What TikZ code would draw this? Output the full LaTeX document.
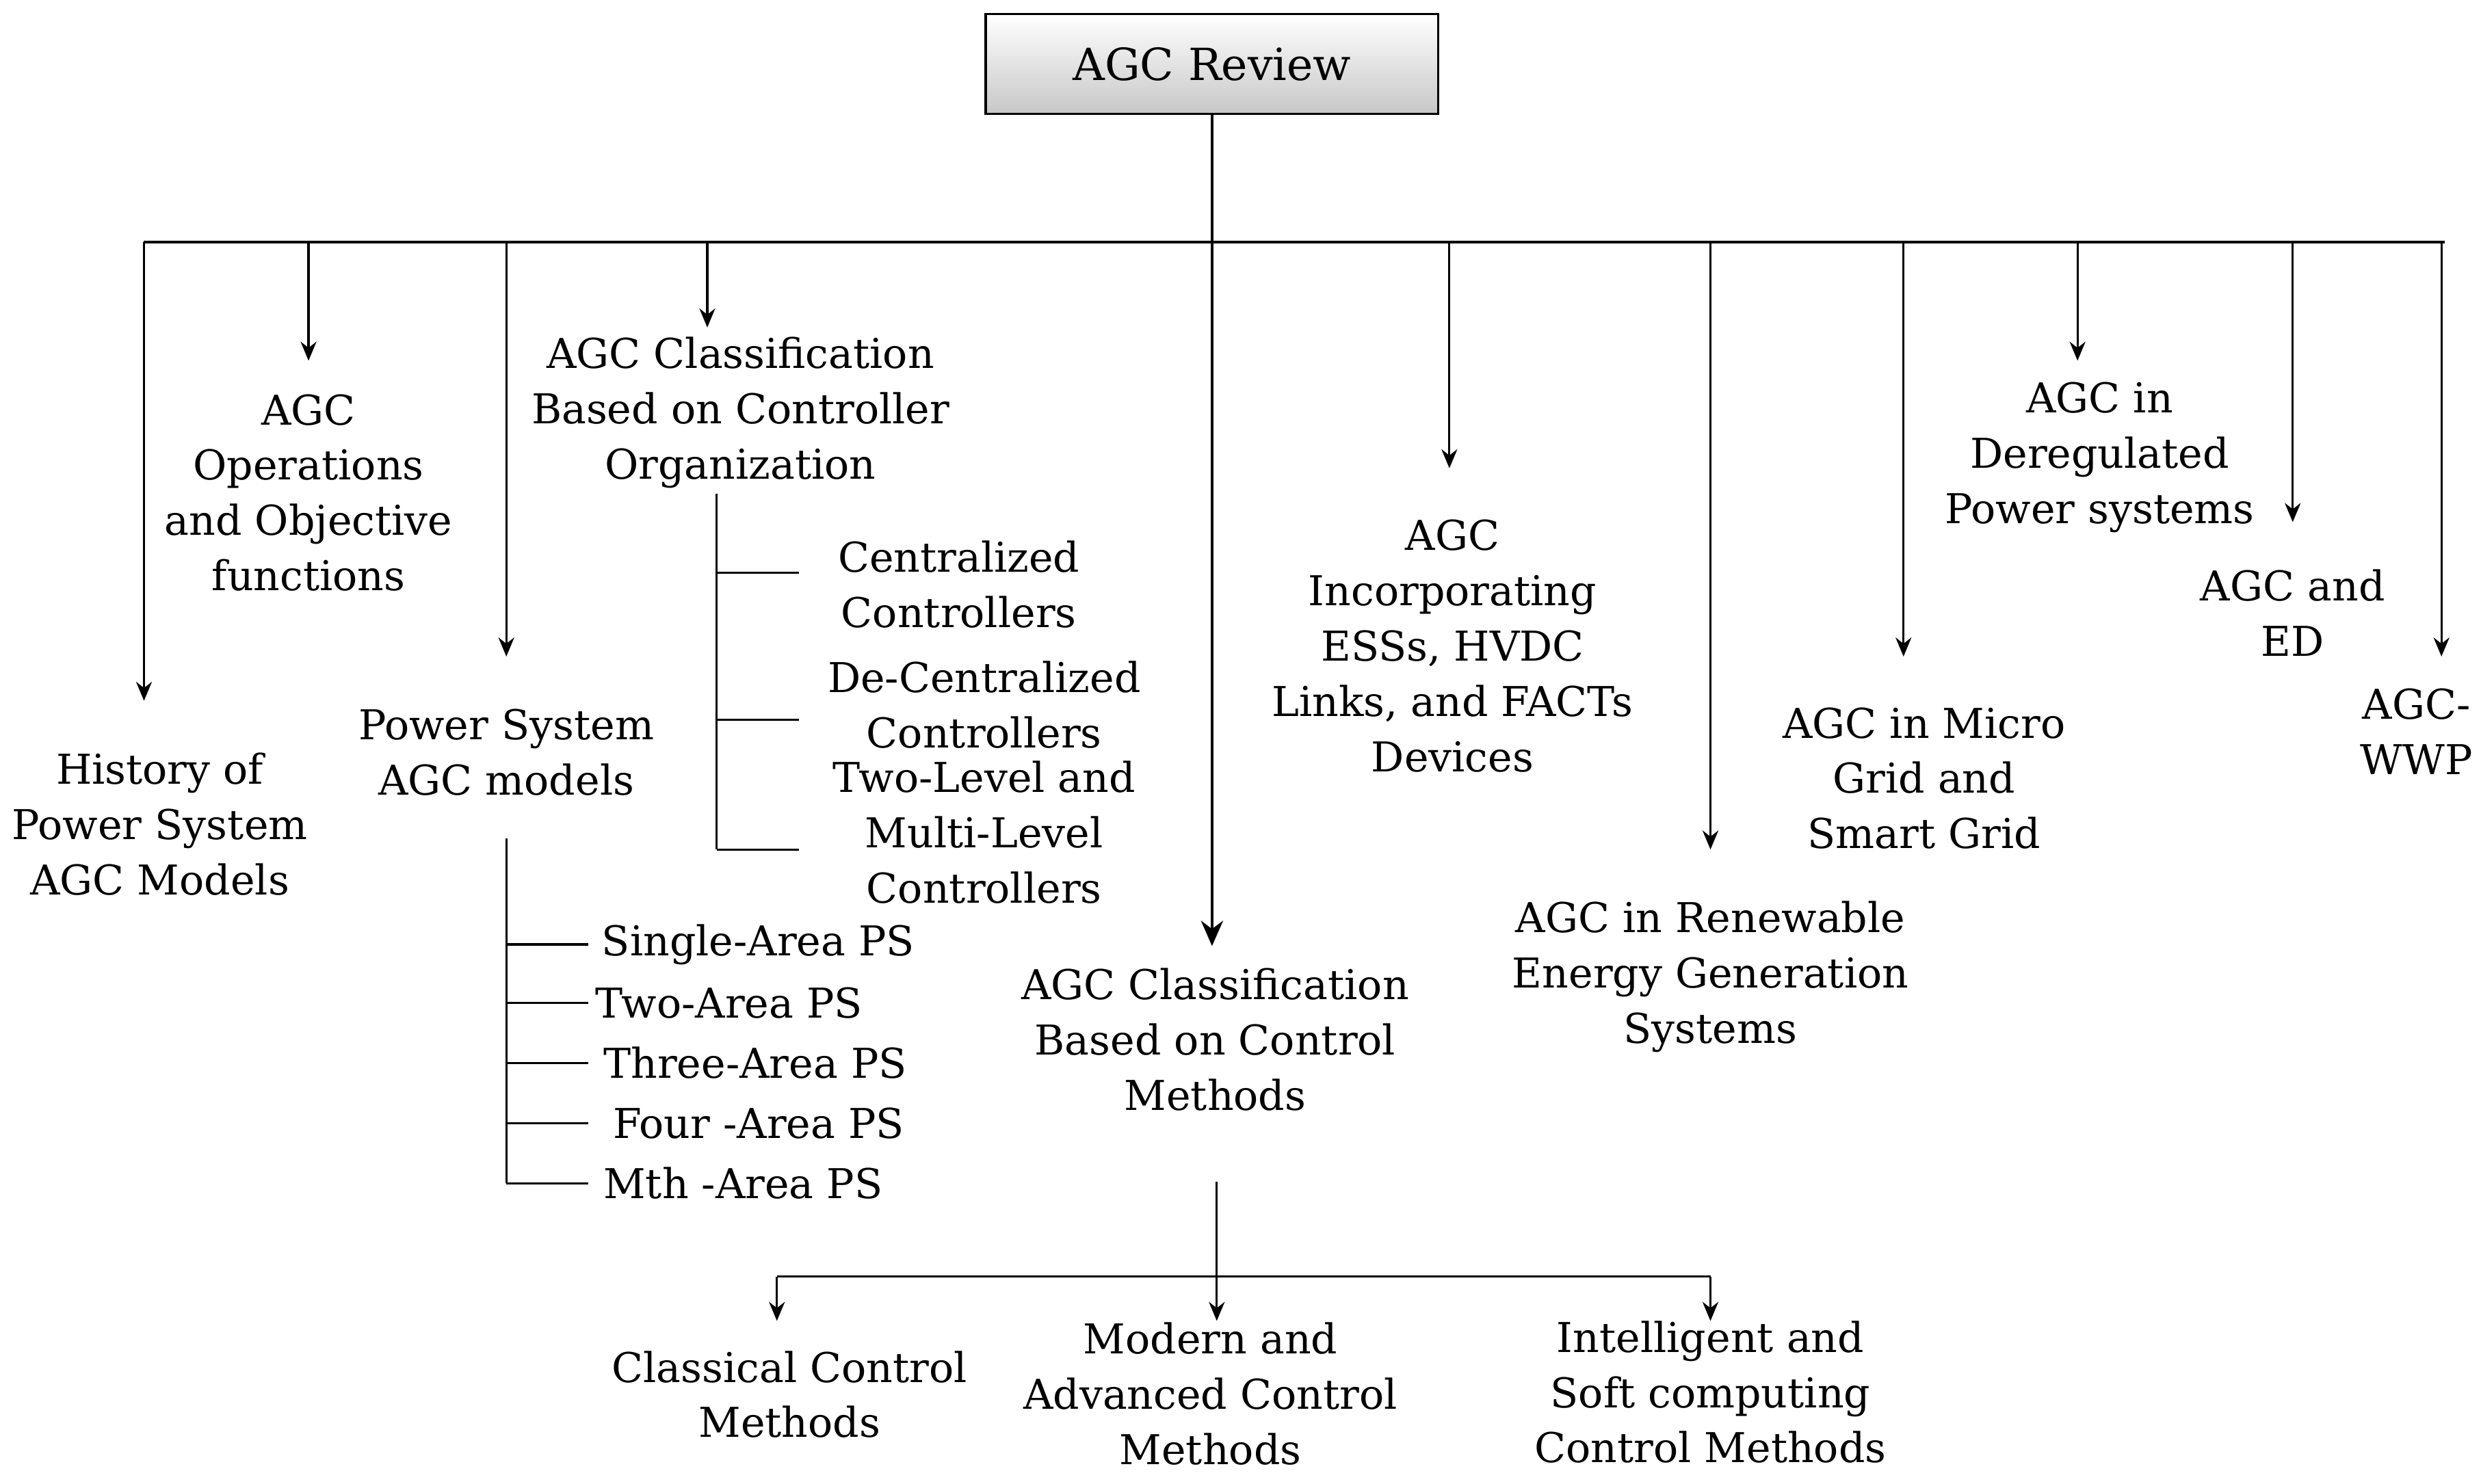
\documentclass[tikz,border=0pt]{standalone}
\usepackage{fontspec}
\setmainfont{DejaVu Serif}
\usetikzlibrary{arrows.meta}
\begin{document}
\begin{tikzpicture}[x=0.5pt,y=-0.5pt,
  ln/.style={line width=0.7pt},
  ar/.style={ln,-{Stealth[length=6pt,width=5pt]}},
  lbl/.style={align=center,font=\fontsize{13}{17.5}\selectfont,inner sep=0pt},
  lft/.style={anchor=west,font=\fontsize{13}{17.5}\selectfont,inner sep=0pt}]
\useasboundingbox (0,0) rectangle (1568,938);
\node[draw,line width=0.7pt,minimum width=143pt,minimum height=31.5pt,top color=white,bottom color=black!22,font=\fontsize{14}{17}\selectfont] (root) at (766,40.5) {AGC Review};
\coordinate (h0) at (91,153); \coordinate (h1) at (1545,153);
\draw[ln] (h0) -- (h1);
\coordinate (r1) at (766,153);
\draw[ln] (root.south) -- (r1);
% drops
\foreach \x/\y/\n in {91/443/a,195/228/b,320/415/c,447/207/d,916/296/e,1081/537/f,1203/415/g,1313/228/h,1449/330/i,1543/415/j}{
  \coordinate (t\n) at (\x,153); \coordinate (e\n) at (\x,\y);
  \draw[ar] (t\n) -- (e\n);}
\coordinate (ek) at (766,598);
\draw[ln,-{Stealth[length=8pt,width=7pt]}] (r1) -- (ek);
\node[lbl] (na) at (101,521) {History of\\Power System\\AGC Models};
\node[lbl] (nb) at (195,311.5) {AGC\\Operations\\and Objective\\functions};
\node[lbl] (nc) at (320,475.5) {Power System\\AGC models};
\node[lbl] (nd) at (468,261) {AGC Classification\\Based on Controller\\Organization};
\node[lbl] (ne) at (918,408.5) {AGC\\Incorporating\\ESSs, HVDC\\Links, and FACTs\\Devices};
\node[lbl] (nf) at (1081,617.5) {AGC in Renewable\\Energy Generation\\Systems};
\node[lbl] (ng) at (1216,492) {AGC in Micro\\Grid and\\Smart Grid};
\node[lbl] (nh) at (1327,289) {AGC in\\Deregulated\\Power systems};
\node[lbl] (ni) at (1449,387.5) {AGC and\\ED};
\node[lbl,anchor=east] (nj) at (1563,462.5) {AGC-\\WWP};
\node[lbl] (nk) at (768,657) {AGC Classification\\Based on Control\\Methods};
% controller bracket
\coordinate (d0) at (453,312); \coordinate (d1) at (453,537);
\draw[ln] (d0) -- (d1);
\foreach \y/\n in {362/1,455/2,537/3}{\coordinate (dd\n) at (453,\y);\coordinate (de\n) at (505,\y);\draw[ln] (dd\n) -- (de\n);}
\node[lbl] (c1) at (606,369.5) {Centralized\\Controllers};
\node[lbl] (c2) at (622,445.5) {De-Centralized\\Controllers};
\node[lbl] (c3) at (622,526) {Two-Level and\\Multi-Level\\Controllers};
% power system bracket
\coordinate (p0) at (320,530); \coordinate (p1) at (320,748);
\draw[ln] (p0) -- (p1);
\foreach \y/\n in {597/1,634/2,672/3,710/4,748/5}{\coordinate (pp\n) at (320,\y);\coordinate (pe\n) at (372,\y);\draw[ln] (pp\n) -- (pe\n);}
\node[lft] (s1) at (380,597) {Single-Area PS};
\node[lft] (s2) at (376,634) {Two-Area PS};
\node[lft] (s3) at (381,672) {Three-Area PS};
\node[lft] (s4) at (387,710) {Four -Area PS};
\node[lft] (s5) at (381,748) {Mth -Area PS};
% methods
\coordinate (m0) at (769,747); \coordinate (m1) at (769,835);
\draw[ar] (m0) -- (m1);
\coordinate (mh0) at (491,807); \coordinate (mh1) at (1081,807);
\draw[ln] (mh0) -- (mh1);
\coordinate (ml) at (491,835); \coordinate (mr) at (1081,835);
\draw[ar] (mh0) -- (ml); \draw[ar] (mh1) -- (mr);
\node[lbl] (q1) at (499,881.5) {Classical Control\\Methods};
\node[lbl] (q2) at (765,881) {Modern and\\Advanced Control\\Methods};
\node[lbl] (q3) at (1081,880) {Intelligent and\\Soft computing\\Control Methods};
\end{tikzpicture}
\end{document}
